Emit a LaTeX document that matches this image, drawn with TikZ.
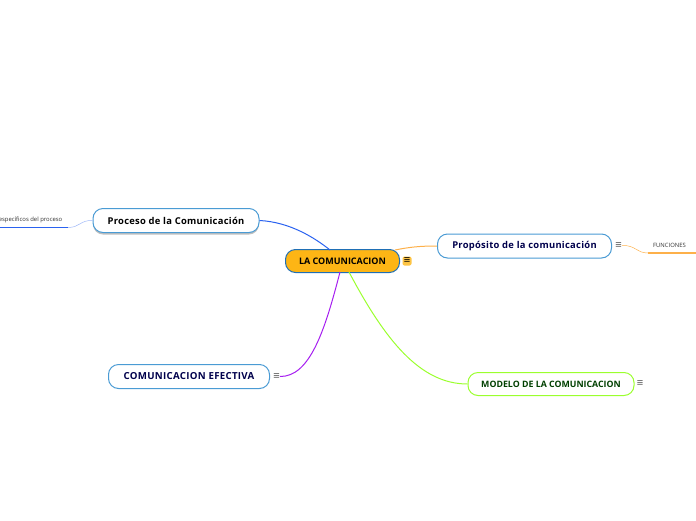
\documentclass[tikz,border=0pt]{standalone}
\usepackage{fontspec}
\setmainfont{Open Sans}
\newfontfamily\symbolfont{Liberation Sans}
\usetikzlibrary{shadows}
\begin{document}
\begin{tikzpicture}
  [x=1pt,y=-1pt,
   topic/.style={rectangle, rounded corners=10pt, draw=#1, line width=1pt, fill=white, text centered, inner sep=0pt, font=\bfseries\fontsize{9.4}{10}\selectfont\addfontfeature{LetterSpace=3}},
   menu/.style={inner sep=0pt, text=black!65, font=\symbolfont\fontsize{11}{11}\selectfont},
   leaf/.style={inner sep=0pt, text=black!80, font=\fontsize{5.9}{6}\selectfont},
   link/.style={line width=1pt}]
  \useasboundingbox (0,0) rectangle (696,520);
  \definecolor{rootfill}{HTML}{FDB515}
  \definecolor{rootline}{HTML}{1F6FB5}
  \definecolor{topicline}{HTML}{4A9BD4}
  \definecolor{lime}{HTML}{9BFF2E}
  \definecolor{violet}{HTML}{A61FF0}
  \definecolor{bluelink}{HTML}{2A62F0}
  \definecolor{orangelink}{HTML}{FDB04A}

  % links to the root go first, the nodes cover their ends
  \coordinate (hubA) at (330,250);
  \coordinate (hubB) at (395,250);
  \coordinate (hubC) at (340,272);
  \coordinate (hubD) at (349,272);
  \node [topic=rootline, fill=rootfill, minimum width=114pt, minimum height=23pt, text=black, font=\bfseries\fontsize{9}{10}\selectfont] (root) at (342.5,261) {\raisebox{-.7pt}{LA COMUNICACION}};
  \node [topic=topicline, minimum width=166pt, minimum height=24pt, text=black, drop shadow={opacity=0.5,shadow xshift=0pt,shadow yshift=-2pt}] (proceso) at (176,220.5) {\raisebox{-.7pt}{Proceso de la Comunicación}};
  \node [topic=topicline, minimum width=174pt, minimum height=24pt, text=blue!30!black] (proposito) at (524.5,246) {\raisebox{-.7pt}{Propósito de la comunicación}};
  \node [topic=topicline, minimum width=161pt, minimum height=24pt, text=blue!30!black, font=\bfseries\fontsize{9.7}{10}\selectfont\addfontfeature{LetterSpace=3}] (efectiva) at (189,376.5) {\raisebox{-.7pt}{COMUNICACION EFECTIVA}};
  \node [topic=lime, minimum width=166pt, minimum height=23pt, text=green!25!black, font=\bfseries\fontsize{8.8}{10}\selectfont] (modelo) at (551,384) {\raisebox{-.7pt}{MODELO DE LA COMUNICACION}};

  \node [rectangle, rounded corners=2pt, fill=rootfill!80, minimum width=9pt, minimum height=9pt, menu, text=black] (rootmenu) at (407,261) {≡};
  \node [menu] (propmenu) at (618.5,245.5) {≡};
  \node [menu] (efecmenu) at (276.5,376.5) {≡};
  \node [menu] (modmenu) at (640,383.5) {≡};

  \node [leaf, anchor=east] (especificos) at (62.5,220) {específicos del proceso};
  \node [leaf] (funciones) at (669.5,245.5) {FUNCIONES};
  \coordinate (espleft) at (0,227.5);
  \coordinate (espright) at (68,227.5);
  \coordinate (funleft) at (648,253);
  \coordinate (funright) at (696,253);

  \draw [link, bluelink] (proceso.east) .. controls (290,222) and (315,238) .. (hubA);
  \draw [link, orangelink] (hubB) .. controls (410,247) and (420,246) .. (proposito.west);
  \draw [link, violet] (hubC) .. controls (325,330) and (310,377) .. (efecmenu.east);
  \draw [link, lime] (hubD) .. controls (385,340) and (420,384) .. (modelo.west);

  \draw [bluelink!45, line width=0.5pt] (proceso.west) .. controls (80,220) and (80,227.5) .. (espright);
  \draw [bluelink, line width=1.2pt] (espleft) -- (espright);
  \draw [orangelink, line width=0.5pt] (propmenu.east) .. controls (636,245) and (636,253) .. (funleft);
  \draw [orangelink, line width=1.2pt] (funleft) -- (funright);
\end{tikzpicture}
\end{document}
